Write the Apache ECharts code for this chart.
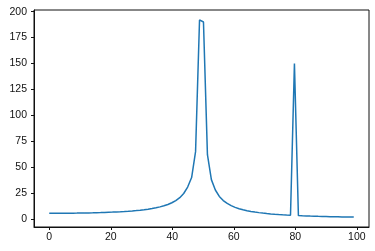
<!DOCTYPE html>
<html>
<head>
<meta charset="utf-8">
<script src="https://cdn.jsdelivr.net/npm/echarts@6/dist/echarts.min.js"></script>
<style>
html,body{margin:0;padding:0;background:#fff;}
#chart{width:375px;height:251px;}
</style>
</head>
<body>
<div id="chart"></div>
<script>
var xValues = [0, 1.29, 2.57, 3.86, 5.14, 6.43, 7.71, 9.0, 10.29, 11.57, 12.86, 14.14, 15.43, 16.71, 18.0, 19.29, 20.57, 21.86, 23.14, 24.43, 25.71, 27.0, 28.29, 29.57, 30.86, 32.14, 33.43, 34.71, 36.0, 37.29, 38.57, 39.86, 41.14, 42.43, 43.71, 45.0, 46.29, 47.57, 48.86, 50.14, 51.43, 52.71, 54.0, 55.29, 56.57, 57.86, 59.14, 60.43, 61.71, 63.0, 64.29, 65.57, 66.86, 68.14, 69.43, 70.71, 72.0, 73.29, 74.57, 75.86, 77.14, 78.43, 79.71, 81.0, 82.29, 83.57, 84.86, 86.14, 87.43, 88.71, 90.0, 91.29, 92.57, 93.86, 95.14, 96.43, 97.71, 99.0];
var yValues = [5.51, 5.51, 5.53, 5.54, 5.57, 5.60, 5.65, 5.70, 5.76, 5.83,
  5.91, 6.00, 6.10, 6.22, 6.35, 6.50, 6.66, 6.85, 7.05, 7.28,
  7.55, 7.84, 8.18, 8.57, 9.01, 9.53, 10.13, 10.84, 11.70, 12.74,
  14.03, 15.68, 17.83, 20.6, 24.6, 30.8, 40.0, 65.0, 192.0, 190.0,
  62.0, 38.0, 28.0, 21.8, 17.8, 15.0, 12.9, 11.2, 9.94, 8.89,
  8.02, 7.30, 6.68, 6.16, 5.70, 5.29, 4.94, 4.62, 4.34, 4.09,
  3.86, 3.65, 150.0, 3.28, 3.12, 2.98, 2.84, 2.72, 2.60, 2.49,
  2.39, 2.29, 2.21, 2.12, 2.04, 1.97, 1.90, 1.85];
var xTicks = [0, 20, 40, 60, 80, 100];
var yTicks = [0, 25, 50, 75, 100, 125, 150, 175, 200];

var seriesData = xValues.map(function (x, i) { return [x, yValues[i]]; });

var chart = echarts.init(document.getElementById('chart'), null, {renderer: 'canvas'});
var axisFont = {color: '#111', fontFamily: 'Liberation Sans', fontSize: 10.5};
chart.setOption({
  animation: false,
  backgroundColor: '#fff',
  grid: {left: 34, right: 6, top: 10, bottom: 24, show: true, borderColor: '#111', borderWidth: 1, backgroundColor: 'transparent'},
  xAxis: {
    type: 'value', min: -4.95, max: 103.95,
    axisLine: {show: true, onZero: false, lineStyle: {color: '#111', width: 1}},
    axisTick: {show: true, length: 3, lineStyle: {color: '#111'}, customValues: xTicks},
    axisLabel: Object.assign({margin: 5, customValues: xTicks}, axisFont),
    splitLine: {show: false}
  },
  yAxis: {
    type: 'value', min: -7.7, max: 201.6,
    axisLine: {show: true, onZero: false, lineStyle: {color: '#111', width: 1}},
    axisTick: {show: true, length: 3, lineStyle: {color: '#111'}, customValues: yTicks},
    axisLabel: Object.assign({margin: 7, customValues: yTicks}, axisFont),
    splitLine: {show: false}
  },
  series: [{
    type: 'line',
    data: seriesData,
    showSymbol: false,
    symbol: 'none',
    lineStyle: {color: '#1f77b4', width: 1.5},
    itemStyle: {color: '#1f77b4'}
  }]
});
</script>
</body>
</html>
